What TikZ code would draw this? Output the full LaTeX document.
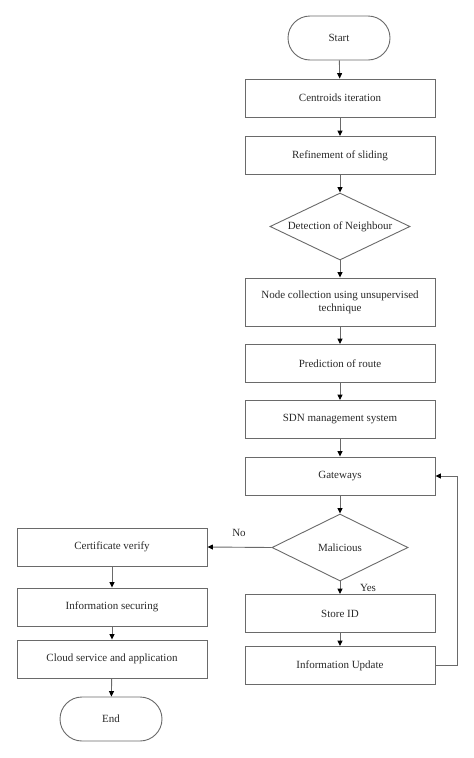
\documentclass[tikz,border=0pt]{standalone}
\usepackage{fontspec}
\setmainfont{Liberation Serif}
\usetikzlibrary{shapes.geometric,arrows.meta}
\definecolor{linegray}{HTML}{6A6A6A}
\definecolor{textgray}{HTML}{2A2A2A}
\begin{document}
\begin{tikzpicture}[x=1pt,y=-1pt,
  every node/.style={font=\fontsize{11}{13}\selectfont, text=textgray},
  procbox/.style={draw=linegray, line width=0.9pt, rectangle, minimum width=190pt, minimum height=38pt, inner sep=0pt, align=center},
  termbox/.style={draw=linegray, line width=0.9pt, rectangle, rounded corners=22pt, minimum width=102pt, minimum height=44pt, inner sep=0pt},
  decbox/.style={draw=linegray, line width=0.9pt, diamond, minimum width=140pt, minimum height=67pt, inner sep=0pt},
  flow/.style={draw=linegray, line width=0.9pt, -{Triangle[length=5.5pt,width=5pt,color=black]}}
]
\useasboundingbox (0,0) rectangle (474,758);
\fill[white] (0,0) rectangle (474,758);

\node[termbox] (start) at (339,38) {Start};
\node[procbox] (cent) at (340,98) {Centroids iteration};
\node[procbox] (refi) at (340,155.5) {Refinement of sliding};
\node[decbox] (detd) at (340,226.5) {};
\node (dett) at (detd.center) {Detection of Neighbour};
\node[procbox, minimum height=48pt] (coll) at (340,302) {Node collection using unsupervised\\technique};
\node[procbox] (pred) at (340,363.5) {Prediction of route};
\node[procbox] (sdn) at (340,419.5) {SDN management system};
\node[procbox] (gate) at (340,476) {Gateways};
\node[decbox, minimum width=136pt] (mald) at (340,547.5) {};
\node (malt) at (mald.center) {Malicious};
\node[procbox] (store) at (340,613.5) {Store ID};
\node[procbox] (upd) at (340,665.5) {Information Update};
\node[procbox] (cert) at (112,547) {Certificate verify};
\node[procbox] (secu) at (112,607) {Information securing};
\node[procbox] (cloud) at (112,659) {Cloud service and application};
\node[termbox] (end) at (111,719) {End};

\node (no) at (239,533) {No};
\node (yes) at (368,588) {Yes};
\coordinate (fb1) at (457,665.5);
\coordinate (fb2) at (457,476);

\draw[flow] (start) -- (cent);
\draw[flow] (cent) -- (refi);
\draw[flow] (refi) -- (detd.north);
\draw[flow] (detd.south) -- (coll);
\draw[flow] (coll) -- (pred);
\draw[flow] (pred) -- (sdn);
\draw[flow] (sdn) -- (gate);
\draw[flow] (gate) -- (mald.north);
\draw[flow] (mald.west) -- (cert.east);
\draw[flow] (mald.south) -- (store);
\draw[flow] (store) -- (upd);
\draw[flow] (upd.east) -- (fb1) -- (fb2) -- (gate.east);
\draw[flow] (cert) -- (secu);
\draw[flow] (secu) -- (cloud);
\draw[flow] (cloud) -- (end);
\end{tikzpicture}
\end{document}
